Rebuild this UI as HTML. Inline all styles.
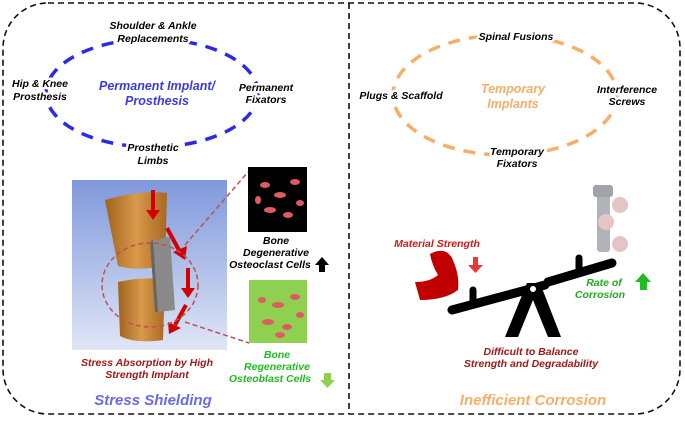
<!DOCTYPE html>
<html><head><style>
body{margin:0;background:#fff}
svg text{font-family:"Liberation Sans",Arial,sans-serif;font-style:italic;font-weight:bold}
.lb{stroke:#fff;stroke-width:5;paint-order:stroke;stroke-linejoin:round}
</style></head><body>
<svg width="685" height="418" viewBox="0 0 685 418" xmlns="http://www.w3.org/2000/svg">
<defs>
<linearGradient id="bg" x1="0" y1="0" x2="0" y2="1"><stop offset="0" stop-color="#7f98dc"/><stop offset="1" stop-color="#dfe6f6"/></linearGradient>
<linearGradient id="bone" x1="0" y1="0" x2="1" y2="0"><stop offset="0" stop-color="#a0621c"/><stop offset="0.5" stop-color="#d99a4c"/><stop offset="1" stop-color="#a8681f"/></linearGradient>
</defs>
<rect x="3" y="3" width="677" height="411" rx="45" fill="none" stroke="#111" stroke-width="1.6" stroke-dasharray="6,4"/>
<line x1="349" y1="3" x2="349" y2="414" stroke="#111" stroke-width="1.6" stroke-dasharray="6,4"/>

<ellipse cx="152" cy="93" rx="106" ry="54" fill="none" stroke="#2a2ae8" stroke-width="3.5" stroke-dasharray="12,9"/>
<g class="lb" font-size="10.5" text-anchor="middle">
<text x="153" y="29">Shoulder &amp; Ankle</text>
<text x="153" y="42">Replacements</text>
<text x="40" y="87">Hip &amp; Knee</text>
<text x="40" y="100">Prosthesis</text>
<text x="266" y="91">Permanent</text>
<text x="266" y="103">Fixators</text>
<text x="153" y="151">Prosthetic</text>
<text x="153" y="164">Limbs</text>
</g>
<text x="157" y="90" font-size="12.5" fill="#3a3ae8" text-anchor="middle">Permanent Implant/</text>
<text x="157" y="105" font-size="12.5" fill="#3a3ae8" text-anchor="middle">Prosthesis</text>

<ellipse cx="505" cy="95" rx="112" ry="60" fill="none" stroke="#f6ae68" stroke-width="3.5" stroke-dasharray="12,9"/>
<g class="lb" font-size="10.5" text-anchor="middle">
<text x="516" y="40">Spinal Fusions</text>
<text x="401" y="99">Plugs &amp; Scaffold</text>
<text x="627" y="93">Interference</text>
<text x="627" y="105">Screws</text>
<text x="517" y="155">Temporary</text>
<text x="517" y="167">Fixators</text>
</g>
<text x="513" y="93" font-size="12.5" fill="#f6ae68" text-anchor="middle">Temporary</text>
<text x="513" y="108" font-size="12.5" fill="#f6ae68" text-anchor="middle">Implants</text>

<!-- left image -->
<rect x="72" y="180" width="155" height="170" fill="url(#bg)"/>
<path d="M105 200 Q140 190 167 193 L165 265 Q140 272 118 266 Z" fill="url(#bone)"/>
<path d="M118 282 Q145 276 165 280 L163 340 Q135 344 120 336 Z" fill="url(#bone)"/>
<polygon points="153,240 170,237 175,310 158,312" fill="#8a8a8a"/>
<polygon points="153,240 158,312 155,312 150,242" fill="#666"/>
<g fill="#d40000" stroke="#d40000" stroke-width="4">
<line x1="153" y1="190" x2="153" y2="212"/><polygon points="146,210 160,210 153,220" stroke="none"/>
<line x1="167" y1="228" x2="180" y2="252"/><polygon points="173,252 187,246 185,260" stroke="none"/>
<line x1="188" y1="268" x2="188" y2="290"/><polygon points="181,288 195,288 188,298" stroke="none"/>
<line x1="186" y1="305" x2="175" y2="325"/><polygon points="168,322 181,328 169,334" stroke="none"/>
</g>
<ellipse cx="150" cy="285" rx="48" ry="42" fill="none" stroke="#c05050" stroke-width="1.5" stroke-dasharray="5,3"/>
<line x1="185" y1="245" x2="248" y2="172" stroke="#c05050" stroke-width="1.5" stroke-dasharray="5,3"/>
<line x1="185" y1="322" x2="249" y2="343" stroke="#c05050" stroke-width="1.5" stroke-dasharray="5,3"/>
<rect x="248" y="167" width="59" height="65" fill="#000"/>
<rect x="249" y="280" width="58" height="63" fill="#8fd050"/>
<g fill="#e05a66">
<ellipse cx="265" cy="185" rx="5" ry="3"/><ellipse cx="280" cy="195" rx="6" ry="3"/><ellipse cx="295" cy="182" rx="5" ry="3"/><ellipse cx="270" cy="210" rx="6" ry="3"/><ellipse cx="288" cy="215" rx="5" ry="3"/><ellipse cx="300" cy="203" rx="4" ry="3"/><ellipse cx="258" cy="200" rx="3" ry="4"/>
<ellipse cx="262" cy="300" rx="4" ry="3"/><ellipse cx="278" cy="305" rx="6" ry="3"/><ellipse cx="295" cy="297" rx="5" ry="3"/><ellipse cx="268" cy="322" rx="6" ry="3"/><ellipse cx="287" cy="327" rx="5" ry="3"/><ellipse cx="300" cy="315" rx="4" ry="3"/><ellipse cx="280" cy="335" rx="5" ry="3"/>
</g>
<text x="276" y="244" font-size="10.5" text-anchor="middle">Bone</text>
<text x="276" y="256" font-size="10.5" text-anchor="middle">Degenerative</text>
<text x="270" y="268" font-size="10.5" text-anchor="middle">Osteoclast Cells</text>
<polygon points="322,257 329,265 325,265 325,272 319,272 319,265 315,265" fill="#000"/>
<text x="277" y="358" font-size="10.5" fill="#22bb22" text-anchor="middle">Bone</text>
<text x="277" y="370" font-size="10.5" fill="#22bb22" text-anchor="middle">Regenerative</text>
<text x="270" y="382" font-size="10.5" fill="#22bb22" text-anchor="middle">Osteoblast Cells</text>
<polygon points="324,373 331,373 331,380 335,380 327.5,388 320,380 324,380" fill="#8fd050"/>
<text x="147" y="366" font-size="10.5" fill="#a01818" text-anchor="middle">Stress Absorption by High</text>
<text x="147" y="378" font-size="10.5" fill="#a01818" text-anchor="middle">Strength Implant</text>
<text x="153" y="405" font-size="15" fill="#6a6ae8" text-anchor="middle">Stress Shielding</text>

<!-- right -->
<text x="437" y="247" font-size="10.5" fill="#cc1a1a" text-anchor="middle">Material Strength</text>
<polygon points="473,257 478,257 478,265 483,265 475.5,273 468,265 473,265" fill="#e83a3a"/>
<path d="M430 254 Q445 246 452 258 Q460 275 458 290 Q445 300 420 300 L415 282 Q430 282 438 275 Q432 265 430 254Z" fill="#c00000"/>
<line x1="452" y1="310" x2="545" y2="285" stroke="#000" stroke-width="9" stroke-linecap="round"/>
<line x1="548" y1="282" x2="612" y2="263" stroke="#000" stroke-width="9" stroke-linecap="round"/>
<line x1="473" y1="302" x2="473" y2="290" stroke="#000" stroke-width="7" stroke-linecap="round"/>
<line x1="579" y1="272" x2="579" y2="258" stroke="#000" stroke-width="7" stroke-linecap="round"/>
<polygon points="527,283 540,283 561,337 548,337 533,300 518,337 505,337" fill="#000"/>
<circle cx="533" cy="289" r="3" fill="#fff"/>
<rect x="597" y="190" width="13" height="62" rx="3" fill="#b0b4b8"/>
<rect x="593" y="185" width="20" height="12" rx="3" fill="#a0a4a8"/>
<circle cx="620" cy="205" r="8" fill="#e4c4c4"/><circle cx="606" cy="222" r="8" fill="#e4c4c4"/><circle cx="620" cy="244" r="8" fill="#e4c4c4"/>
<text x="604" y="286" font-size="10.5" fill="#22aa22" text-anchor="middle">Rate of</text>
<text x="600" y="298" font-size="10.5" fill="#22aa22" text-anchor="middle">Corrosion</text>
<polygon points="643,273 651,282 647,282 647,290 640,290 640,282 635,282" fill="#22bb22"/>
<text x="531" y="355" font-size="10.5" fill="#a01818" text-anchor="middle">Difficult to Balance</text>
<text x="531" y="367" font-size="10.5" fill="#a01818" text-anchor="middle">Strength and Degradability</text>
<text x="533" y="405" font-size="15" fill="#f6ae68" text-anchor="middle">Inefficient Corrosion</text>
</svg>
</body></html>
